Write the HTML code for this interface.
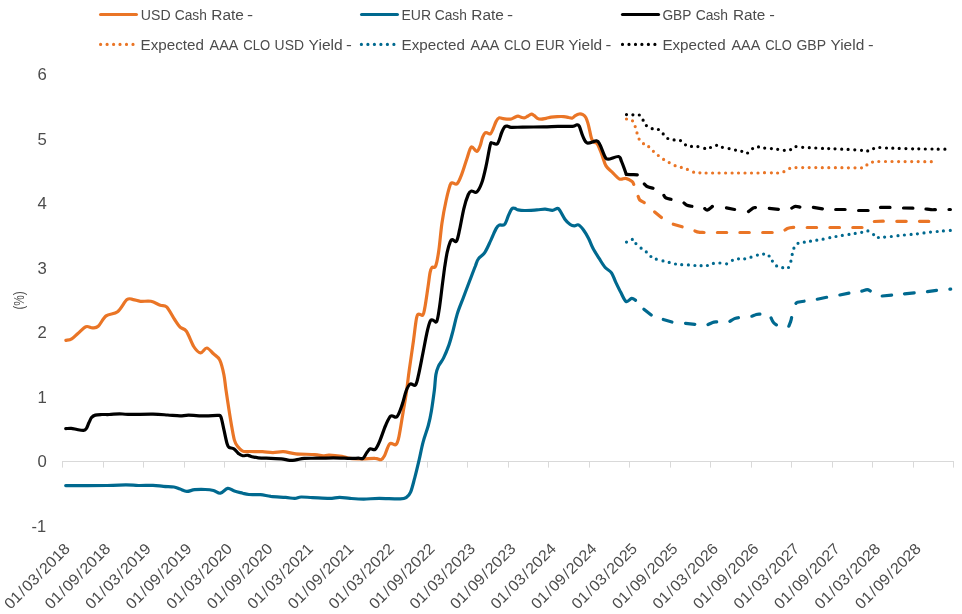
<!DOCTYPE html>
<html lang="en"><head><meta charset="utf-8"><title>Cash rates and expected AAA CLO yields</title>
<style>html,body{margin:0;padding:0;background:#fff}body{width:962px;height:614px;overflow:hidden}svg{display:block;will-change:transform}text{font-family:"Liberation Sans",sans-serif;fill:#4C4C4C}</style></head><body>
<svg width="962" height="614" viewBox="0 0 962 614">
<rect width="962" height="614" fill="#fff"/>
<g stroke="#D9D9D9" stroke-width="1" fill="none">
<path d="M62 461.5H954"/>
<path d="M62.5 461v6.6M103.5 461v6.6M143.5 461v6.6M184.5 461v6.6M224.5 461v6.6M265.5 461v6.6M305.5 461v6.6M346.5 461v6.6M386.5 461v6.6M427.5 461v6.6M467.5 461v6.6M508.5 461v6.6M548.5 461v6.6M589.5 461v6.6M629.5 461v6.6M670.5 461v6.6M710.5 461v6.6M751.5 461v6.6M791.5 461v6.6M832.5 461v6.6M872.5 461v6.6M913.5 461v6.6M953.5 461v6.6"/>
</g>
<g font-size="15.8" text-anchor="end">
<text x="46.9" y="79.85" textLength="9.31" lengthAdjust="spacingAndGlyphs">6</text>
<text x="46.9" y="144.95" textLength="9.31" lengthAdjust="spacingAndGlyphs">5</text>
<text x="46.9" y="209.25" textLength="9.31" lengthAdjust="spacingAndGlyphs">4</text>
<text x="46.9" y="273.80" textLength="9.31" lengthAdjust="spacingAndGlyphs">3</text>
<text x="46.9" y="337.90" textLength="9.31" lengthAdjust="spacingAndGlyphs">2</text>
<text x="46.9" y="402.90" textLength="9.31" lengthAdjust="spacingAndGlyphs">1</text>
<text x="46.9" y="466.85" textLength="9.31" lengthAdjust="spacingAndGlyphs">0</text>
<text x="46.2" y="532.00" textLength="14.60" lengthAdjust="spacingAndGlyphs">-1</text>
</g>
<text font-size="14.3" text-anchor="middle" textLength="18.4" lengthAdjust="spacingAndGlyphs" transform="translate(23.5 300.4) rotate(-90)">(%)</text>
<g font-size="15.4">
<text transform="translate(70.9 549.6) rotate(-45)"><tspan x="-85.50" textLength="17.96" lengthAdjust="spacingAndGlyphs">01</tspan><tspan x="-66.27">/</tspan><tspan x="-60.71" textLength="17.96" lengthAdjust="spacingAndGlyphs">03</tspan><tspan x="-41.47">/</tspan><tspan x="-35.91" textLength="35.91" lengthAdjust="spacingAndGlyphs">2018</tspan></text>
<text transform="translate(111.4 549.6) rotate(-45)"><tspan x="-85.50" textLength="17.96" lengthAdjust="spacingAndGlyphs">01</tspan><tspan x="-66.27">/</tspan><tspan x="-60.71" textLength="17.96" lengthAdjust="spacingAndGlyphs">09</tspan><tspan x="-41.47">/</tspan><tspan x="-35.91" textLength="35.91" lengthAdjust="spacingAndGlyphs">2018</tspan></text>
<text transform="translate(151.9 549.6) rotate(-45)"><tspan x="-85.50" textLength="17.96" lengthAdjust="spacingAndGlyphs">01</tspan><tspan x="-66.27">/</tspan><tspan x="-60.71" textLength="17.96" lengthAdjust="spacingAndGlyphs">03</tspan><tspan x="-41.47">/</tspan><tspan x="-35.91" textLength="35.91" lengthAdjust="spacingAndGlyphs">2019</tspan></text>
<text transform="translate(192.5 549.6) rotate(-45)"><tspan x="-85.50" textLength="17.96" lengthAdjust="spacingAndGlyphs">01</tspan><tspan x="-66.27">/</tspan><tspan x="-60.71" textLength="17.96" lengthAdjust="spacingAndGlyphs">09</tspan><tspan x="-41.47">/</tspan><tspan x="-35.91" textLength="35.91" lengthAdjust="spacingAndGlyphs">2019</tspan></text>
<text transform="translate(233.0 549.6) rotate(-45)"><tspan x="-85.50" textLength="17.96" lengthAdjust="spacingAndGlyphs">01</tspan><tspan x="-66.27">/</tspan><tspan x="-60.71" textLength="17.96" lengthAdjust="spacingAndGlyphs">03</tspan><tspan x="-41.47">/</tspan><tspan x="-35.91" textLength="35.91" lengthAdjust="spacingAndGlyphs">2020</tspan></text>
<text transform="translate(273.5 549.6) rotate(-45)"><tspan x="-85.50" textLength="17.96" lengthAdjust="spacingAndGlyphs">01</tspan><tspan x="-66.27">/</tspan><tspan x="-60.71" textLength="17.96" lengthAdjust="spacingAndGlyphs">09</tspan><tspan x="-41.47">/</tspan><tspan x="-35.91" textLength="35.91" lengthAdjust="spacingAndGlyphs">2020</tspan></text>
<text transform="translate(314.0 549.6) rotate(-45)"><tspan x="-85.50" textLength="17.96" lengthAdjust="spacingAndGlyphs">01</tspan><tspan x="-66.27">/</tspan><tspan x="-60.71" textLength="17.96" lengthAdjust="spacingAndGlyphs">03</tspan><tspan x="-41.47">/</tspan><tspan x="-35.91" textLength="35.91" lengthAdjust="spacingAndGlyphs">2021</tspan></text>
<text transform="translate(354.5 549.6) rotate(-45)"><tspan x="-85.50" textLength="17.96" lengthAdjust="spacingAndGlyphs">01</tspan><tspan x="-66.27">/</tspan><tspan x="-60.71" textLength="17.96" lengthAdjust="spacingAndGlyphs">09</tspan><tspan x="-41.47">/</tspan><tspan x="-35.91" textLength="35.91" lengthAdjust="spacingAndGlyphs">2021</tspan></text>
<text transform="translate(395.1 549.6) rotate(-45)"><tspan x="-85.50" textLength="17.96" lengthAdjust="spacingAndGlyphs">01</tspan><tspan x="-66.27">/</tspan><tspan x="-60.71" textLength="17.96" lengthAdjust="spacingAndGlyphs">03</tspan><tspan x="-41.47">/</tspan><tspan x="-35.91" textLength="35.91" lengthAdjust="spacingAndGlyphs">2022</tspan></text>
<text transform="translate(435.6 549.6) rotate(-45)"><tspan x="-85.50" textLength="17.96" lengthAdjust="spacingAndGlyphs">01</tspan><tspan x="-66.27">/</tspan><tspan x="-60.71" textLength="17.96" lengthAdjust="spacingAndGlyphs">09</tspan><tspan x="-41.47">/</tspan><tspan x="-35.91" textLength="35.91" lengthAdjust="spacingAndGlyphs">2022</tspan></text>
<text transform="translate(476.1 549.6) rotate(-45)"><tspan x="-85.50" textLength="17.96" lengthAdjust="spacingAndGlyphs">01</tspan><tspan x="-66.27">/</tspan><tspan x="-60.71" textLength="17.96" lengthAdjust="spacingAndGlyphs">03</tspan><tspan x="-41.47">/</tspan><tspan x="-35.91" textLength="35.91" lengthAdjust="spacingAndGlyphs">2023</tspan></text>
<text transform="translate(516.6 549.6) rotate(-45)"><tspan x="-85.50" textLength="17.96" lengthAdjust="spacingAndGlyphs">01</tspan><tspan x="-66.27">/</tspan><tspan x="-60.71" textLength="17.96" lengthAdjust="spacingAndGlyphs">09</tspan><tspan x="-41.47">/</tspan><tspan x="-35.91" textLength="35.91" lengthAdjust="spacingAndGlyphs">2023</tspan></text>
<text transform="translate(557.1 549.6) rotate(-45)"><tspan x="-85.50" textLength="17.96" lengthAdjust="spacingAndGlyphs">01</tspan><tspan x="-66.27">/</tspan><tspan x="-60.71" textLength="17.96" lengthAdjust="spacingAndGlyphs">03</tspan><tspan x="-41.47">/</tspan><tspan x="-35.91" textLength="35.91" lengthAdjust="spacingAndGlyphs">2024</tspan></text>
<text transform="translate(597.7 549.6) rotate(-45)"><tspan x="-85.50" textLength="17.96" lengthAdjust="spacingAndGlyphs">01</tspan><tspan x="-66.27">/</tspan><tspan x="-60.71" textLength="17.96" lengthAdjust="spacingAndGlyphs">09</tspan><tspan x="-41.47">/</tspan><tspan x="-35.91" textLength="35.91" lengthAdjust="spacingAndGlyphs">2024</tspan></text>
<text transform="translate(638.2 549.6) rotate(-45)"><tspan x="-85.50" textLength="17.96" lengthAdjust="spacingAndGlyphs">01</tspan><tspan x="-66.27">/</tspan><tspan x="-60.71" textLength="17.96" lengthAdjust="spacingAndGlyphs">03</tspan><tspan x="-41.47">/</tspan><tspan x="-35.91" textLength="35.91" lengthAdjust="spacingAndGlyphs">2025</tspan></text>
<text transform="translate(678.7 549.6) rotate(-45)"><tspan x="-85.50" textLength="17.96" lengthAdjust="spacingAndGlyphs">01</tspan><tspan x="-66.27">/</tspan><tspan x="-60.71" textLength="17.96" lengthAdjust="spacingAndGlyphs">09</tspan><tspan x="-41.47">/</tspan><tspan x="-35.91" textLength="35.91" lengthAdjust="spacingAndGlyphs">2025</tspan></text>
<text transform="translate(719.2 549.6) rotate(-45)"><tspan x="-85.50" textLength="17.96" lengthAdjust="spacingAndGlyphs">01</tspan><tspan x="-66.27">/</tspan><tspan x="-60.71" textLength="17.96" lengthAdjust="spacingAndGlyphs">03</tspan><tspan x="-41.47">/</tspan><tspan x="-35.91" textLength="35.91" lengthAdjust="spacingAndGlyphs">2026</tspan></text>
<text transform="translate(759.7 549.6) rotate(-45)"><tspan x="-85.50" textLength="17.96" lengthAdjust="spacingAndGlyphs">01</tspan><tspan x="-66.27">/</tspan><tspan x="-60.71" textLength="17.96" lengthAdjust="spacingAndGlyphs">09</tspan><tspan x="-41.47">/</tspan><tspan x="-35.91" textLength="35.91" lengthAdjust="spacingAndGlyphs">2026</tspan></text>
<text transform="translate(800.3 549.6) rotate(-45)"><tspan x="-85.50" textLength="17.96" lengthAdjust="spacingAndGlyphs">01</tspan><tspan x="-66.27">/</tspan><tspan x="-60.71" textLength="17.96" lengthAdjust="spacingAndGlyphs">03</tspan><tspan x="-41.47">/</tspan><tspan x="-35.91" textLength="35.91" lengthAdjust="spacingAndGlyphs">2027</tspan></text>
<text transform="translate(840.8 549.6) rotate(-45)"><tspan x="-85.50" textLength="17.96" lengthAdjust="spacingAndGlyphs">01</tspan><tspan x="-66.27">/</tspan><tspan x="-60.71" textLength="17.96" lengthAdjust="spacingAndGlyphs">09</tspan><tspan x="-41.47">/</tspan><tspan x="-35.91" textLength="35.91" lengthAdjust="spacingAndGlyphs">2027</tspan></text>
<text transform="translate(881.3 549.6) rotate(-45)"><tspan x="-85.50" textLength="17.96" lengthAdjust="spacingAndGlyphs">01</tspan><tspan x="-66.27">/</tspan><tspan x="-60.71" textLength="17.96" lengthAdjust="spacingAndGlyphs">03</tspan><tspan x="-41.47">/</tspan><tspan x="-35.91" textLength="35.91" lengthAdjust="spacingAndGlyphs">2028</tspan></text>
<text transform="translate(921.8 549.6) rotate(-45)"><tspan x="-85.50" textLength="17.96" lengthAdjust="spacingAndGlyphs">01</tspan><tspan x="-66.27">/</tspan><tspan x="-60.71" textLength="17.96" lengthAdjust="spacingAndGlyphs">09</tspan><tspan x="-41.47">/</tspan><tspan x="-35.91" textLength="35.91" lengthAdjust="spacingAndGlyphs">2028</tspan></text>
</g>
<path d="M65.9 340.4C66.9 340.1 69.7 340.0 71.7 338.8C73.7 337.6 75.5 335.4 77.9 333.4C80.3 331.4 83.5 327.6 85.9 326.7C88.3 325.8 90.5 327.9 92.5 327.8C94.5 327.7 95.9 328.3 98.2 326.3C100.5 324.3 102.9 318.3 106.1 315.9C109.3 313.5 114.1 314.4 117.6 311.7C121.1 309.0 124.4 301.6 127.0 299.6C129.6 297.6 130.9 299.3 133.2 299.6C135.4 299.9 137.6 301.0 140.5 301.3C143.4 301.6 147.6 300.7 150.9 301.3C154.2 301.9 157.7 304.3 160.3 305.2C162.9 306.1 164.3 304.7 166.6 306.9C168.9 309.1 171.7 315.0 173.9 318.4C176.2 321.8 178.0 325.0 180.1 327.1C182.2 329.2 184.1 328.1 186.4 331.3C188.7 334.5 191.4 342.9 193.7 346.5C196.0 350.1 198.2 352.6 200.4 352.8C202.6 353.1 204.6 347.8 206.8 348.0C209.0 348.2 211.3 351.8 213.5 353.8C215.7 355.8 218.1 356.6 219.8 360.1C221.5 363.6 222.9 369.7 223.9 374.7C224.9 379.7 225.1 384.0 226.0 390.0C226.9 396.0 228.1 404.2 229.1 410.5C230.1 416.8 231.0 422.6 231.9 427.5C232.8 432.4 233.5 437.0 234.4 440.1C235.3 443.2 236.1 444.5 237.5 446.3C238.9 448.1 240.6 450.2 242.7 451.1C244.8 452.0 246.7 451.4 250.0 451.5C253.3 451.6 258.7 451.5 262.5 451.7C266.3 451.9 269.4 452.6 272.9 452.6C276.4 452.6 279.6 451.5 283.4 451.7C287.2 451.9 290.7 453.3 295.9 453.8C301.1 454.3 310.2 454.2 314.7 454.6C319.2 455.0 320.6 455.8 323.0 455.9C325.4 456.0 326.1 455.0 329.2 455.1C332.3 455.2 338.3 455.8 341.8 456.3C345.3 456.9 346.6 458.0 350.1 458.4C353.6 458.8 358.4 458.8 362.6 458.8C366.8 458.8 372.0 458.2 375.1 458.4C378.2 458.5 379.4 460.1 381.0 459.7C382.6 459.2 383.1 458.3 384.5 455.7C385.9 453.1 387.8 445.6 389.7 443.8C391.6 442.0 394.4 445.9 396.0 444.6C397.6 443.3 397.9 441.5 399.1 435.9C400.3 430.3 402.1 418.0 403.3 410.9C404.5 403.8 405.3 399.8 406.3 393.0C407.3 386.2 408.0 379.0 409.2 370.4C410.4 361.8 412.2 349.9 413.4 341.2C414.6 332.5 415.6 322.8 416.5 318.3C417.4 313.8 417.6 314.6 418.6 314.1C419.7 313.6 421.8 316.2 422.8 315.2C423.8 314.2 423.9 312.6 424.8 307.9C425.7 303.2 427.1 292.9 428.0 287.0C428.9 281.1 429.4 275.7 430.1 272.4C430.8 269.1 431.2 268.2 432.1 267.2C433.0 266.2 434.5 269.0 435.6 266.2C436.7 263.4 437.8 257.6 438.8 250.5C439.9 243.4 440.7 231.7 441.9 223.4C443.1 215.1 444.7 206.9 446.1 200.5C447.5 194.1 449.2 187.8 450.2 184.8C451.2 181.9 451.1 183.0 452.3 182.8C453.5 182.6 455.5 185.2 457.1 183.8C458.7 182.4 460.1 178.6 461.7 174.4C463.3 170.2 465.3 163.4 466.9 158.8C468.5 154.2 469.7 148.2 471.3 147.0C472.9 145.8 475.2 151.5 476.7 151.4C478.1 151.3 479.0 148.5 480.0 146.2C481.0 143.9 481.6 139.6 482.5 137.4C483.4 135.2 484.3 133.5 485.2 132.8C486.1 132.1 486.8 132.9 487.7 133.1C488.6 133.2 489.7 134.4 490.6 133.7C491.5 133.0 492.2 131.0 493.1 128.9C494.0 126.8 495.2 123.1 496.2 121.2C497.2 119.3 498.1 118.2 499.3 117.8C500.5 117.4 501.9 118.5 503.1 118.7C504.4 118.9 505.5 119.0 506.8 119.1C508.1 119.1 509.9 119.3 511.2 119.0C512.5 118.7 513.8 117.7 514.9 117.2C516.0 116.7 516.9 116.2 518.0 116.2C519.1 116.2 520.6 117.2 521.8 117.5C522.9 117.8 523.9 118.0 524.9 117.8C525.9 117.5 526.9 116.6 528.0 116.0C529.1 115.4 530.4 114.2 531.4 114.1C532.4 114.0 533.3 114.9 534.3 115.6C535.3 116.3 536.3 117.7 537.4 118.3C538.5 118.9 539.6 119.1 541.1 119.1C542.6 119.1 544.4 118.6 546.1 118.3C547.8 118.0 549.2 117.5 551.1 117.2C553.0 116.9 555.2 116.7 557.3 116.6C559.4 116.5 561.7 116.4 563.6 116.6C565.5 116.8 567.2 117.2 568.6 117.5C570.0 117.8 571.0 118.4 572.1 118.1C573.2 117.8 574.2 116.3 575.4 115.6C576.6 114.9 578.0 114.2 579.2 114.0C580.5 113.8 581.8 114.1 582.9 114.7C584.0 115.3 585.0 116.1 585.8 117.5C586.6 118.9 587.2 120.8 587.9 123.1C588.6 125.4 589.2 128.6 589.8 131.2C590.4 133.8 590.9 136.8 591.6 138.7C592.3 140.6 593.2 141.5 594.1 142.4C595.0 143.3 596.0 141.9 597.3 143.9C598.6 145.9 600.3 150.7 601.8 154.4C603.2 158.1 604.3 162.9 606.0 165.9C607.7 168.9 610.0 170.0 612.2 172.2C614.5 174.4 617.2 178.0 619.5 179.0C621.8 180.0 623.7 178.0 625.8 178.4C627.9 178.8 630.8 180.5 632.1 181.5C633.4 182.5 633.4 183.8 633.7 184.3" fill="none" stroke="#EA7526" stroke-width="3.2" stroke-linecap="round" stroke-linejoin="round"/>
<path d="M65.7 485.6C72.6 485.6 97.1 485.6 107.1 485.5C117.1 485.4 120.7 484.9 125.9 484.9C131.1 484.9 133.9 485.4 138.4 485.5C142.9 485.6 148.8 485.2 153.0 485.3C157.2 485.4 159.9 486.1 163.4 486.4C166.9 486.7 171.1 486.6 173.9 487.0C176.7 487.4 177.9 488.4 180.1 489.1C182.2 489.8 184.4 491.3 186.8 491.4C189.2 491.5 191.6 490.0 194.7 489.7C197.8 489.4 202.1 489.4 205.2 489.5C208.3 489.6 211.0 489.9 213.5 490.5C216.0 491.1 218.0 493.6 220.4 493.2C222.8 492.8 225.4 488.8 227.7 488.4C230.0 488.0 231.9 490.3 234.4 491.1C236.9 491.9 240.3 492.6 242.7 493.2C245.1 493.8 246.0 494.2 248.9 494.5C251.8 494.8 256.7 494.4 260.4 494.7C264.1 495.0 266.7 495.9 270.9 496.4C275.1 496.8 281.5 497.1 285.5 497.4C289.5 497.7 292.2 498.5 294.8 498.4C297.4 498.3 298.1 497.1 301.1 497.0C304.1 496.9 307.9 497.4 312.6 497.6C317.3 497.8 324.7 498.4 329.2 498.4C333.7 498.4 336.2 497.4 339.7 497.4C343.2 497.4 346.1 498.1 350.1 498.4C354.1 498.7 358.8 499.1 363.7 499.1C368.6 499.1 373.2 498.4 379.3 498.4C385.4 498.4 395.7 499.1 400.2 498.9C404.7 498.7 404.7 498.5 406.4 497.4C408.1 496.3 409.2 495.5 410.6 492.2C412.0 488.9 413.4 482.8 414.8 477.6C416.2 472.4 417.5 466.8 418.9 460.9C420.3 455.0 421.5 448.0 423.1 442.1C424.7 436.2 426.9 430.7 428.3 425.5C429.7 420.3 430.4 416.8 431.4 410.9C432.4 405.0 433.6 396.1 434.4 390.0C435.1 383.9 435.2 378.6 435.9 374.6C436.6 370.7 437.1 369.1 438.4 366.3C439.7 363.5 441.9 361.4 443.6 357.9C445.3 354.4 447.2 349.9 448.8 345.4C450.4 340.9 451.6 336.0 453.0 330.8C454.4 325.6 455.5 319.7 457.2 314.1C458.9 308.6 461.3 303.1 463.4 297.5C465.5 291.9 467.7 286.1 469.7 280.8C471.7 275.6 473.9 269.6 475.4 266.0C476.8 262.4 476.8 261.1 478.4 258.9C479.9 256.7 482.6 255.7 484.7 252.6C486.8 249.5 489.0 244.1 490.9 240.1C492.8 236.1 494.7 231.1 496.1 228.6C497.5 226.1 497.8 225.8 499.2 225.1C500.6 224.4 502.9 226.2 504.5 224.5C506.1 222.8 507.4 217.7 508.6 215.1C509.8 212.5 510.8 209.9 511.8 208.8C512.9 207.7 513.9 208.2 514.9 208.4C515.9 208.6 516.4 209.6 518.0 209.9C519.6 210.2 521.2 210.5 524.3 210.5C527.4 210.5 533.3 210.1 536.8 209.9C540.3 209.7 542.5 209.1 545.1 209.2C547.7 209.3 550.3 210.4 552.4 210.3C554.5 210.2 556.3 208.3 557.6 208.4C558.9 208.5 558.9 209.1 560.1 210.9C561.3 212.7 563.2 216.9 564.9 219.2C566.6 221.5 568.6 223.4 570.2 224.5C571.8 225.6 572.9 225.8 574.3 225.9C575.7 226.0 577.0 224.2 578.5 224.9C580.0 225.6 581.8 227.7 583.5 230.0C585.2 232.3 587.1 235.6 588.6 238.5C590.1 241.4 591.0 244.4 592.7 247.7C594.4 251.0 596.9 254.9 599.0 258.2C601.1 261.5 603.1 265.1 605.2 267.5C607.3 269.9 609.8 270.4 611.5 272.8C613.2 275.2 614.1 278.8 615.7 282.1C617.3 285.4 619.2 289.4 620.9 292.6C622.6 295.8 624.3 300.5 626.1 301.5C627.9 302.5 630.1 298.6 631.7 298.4C633.3 298.2 634.9 300.0 635.5 300.3" fill="none" stroke="#00698F" stroke-width="3.2" stroke-linecap="round" stroke-linejoin="round"/>
<path d="M65.7 428.6C66.6 428.6 69.2 428.2 71.1 428.3C73.0 428.4 74.9 429.1 77.0 429.5C79.1 429.9 82.0 430.6 83.6 430.4C85.2 430.2 85.6 429.6 86.5 428.3C87.4 427.0 88.1 424.3 89.0 422.5C89.9 420.7 90.7 418.5 91.7 417.3C92.8 416.1 93.6 415.6 95.3 415.1C97.0 414.6 99.6 414.6 101.9 414.5C104.2 414.4 106.2 414.6 109.2 414.5C112.2 414.4 116.5 413.8 119.6 413.8C122.7 413.8 122.4 414.3 128.0 414.4C133.6 414.5 146.4 414.1 153.0 414.2C159.6 414.3 163.1 414.7 167.6 415.0C172.1 415.3 176.6 415.9 180.1 415.9C183.6 415.9 184.3 415.2 188.5 415.2C192.7 415.2 200.3 415.9 205.2 415.9C210.1 415.9 215.1 415.3 217.7 415.4C220.3 415.5 219.8 414.3 220.8 416.7C221.8 419.1 222.9 425.1 223.9 429.6C224.9 434.1 226.2 440.8 227.1 443.8C228.0 446.8 228.0 446.6 229.1 447.4C230.2 448.2 232.3 447.8 233.9 448.8C235.5 449.8 237.0 452.5 238.5 453.6C240.0 454.8 241.1 455.4 242.7 455.7C244.3 456.0 246.3 455.1 247.9 455.3C249.5 455.5 250.3 456.4 252.0 456.8C253.7 457.2 255.2 457.5 258.3 457.8C261.4 458.1 267.1 458.2 270.9 458.4C274.7 458.6 278.2 458.5 281.3 458.8C284.4 459.1 287.2 460.1 289.6 460.3C292.0 460.5 293.5 460.2 295.9 459.9C298.3 459.6 300.7 458.7 304.2 458.4C307.7 458.1 311.8 458.3 316.7 458.2C321.6 458.1 327.8 457.8 333.4 457.8C339.0 457.8 345.9 458.3 350.1 458.4C354.3 458.5 356.2 458.2 358.4 458.2C360.5 458.2 361.6 459.3 363.0 458.4C364.4 457.5 365.6 454.2 366.8 452.6C368.0 451.0 368.9 449.3 370.3 448.8C371.7 448.3 373.6 450.5 375.1 449.4C376.6 448.3 377.6 446.1 379.3 442.1C381.1 438.1 383.7 429.8 385.6 425.5C387.5 421.2 388.9 417.6 390.8 416.1C392.7 414.6 395.1 418.6 397.0 416.7C398.9 414.8 400.7 408.9 402.2 404.6C403.7 400.3 404.8 394.4 406.1 391.0C407.4 387.6 408.6 385.0 410.2 384.0C411.8 383.0 414.1 386.6 415.5 385.0C416.9 383.4 417.4 379.8 418.6 374.6C419.8 369.4 421.4 360.8 422.8 353.8C424.2 346.9 425.7 338.3 426.9 332.9C428.1 327.5 429.2 323.5 430.1 321.4C431.1 319.2 431.5 320.0 432.6 320.0C433.7 320.0 435.6 323.4 436.7 321.4C437.8 319.4 438.4 314.3 439.4 307.9C440.4 301.5 441.7 289.6 442.6 282.9C443.5 276.2 443.9 272.7 444.6 267.6C445.4 262.6 446.2 256.9 447.1 252.6C448.0 248.3 449.3 244.0 450.2 241.8C451.1 239.7 451.2 239.8 452.3 239.7C453.4 239.6 455.3 242.8 456.5 241.1C457.7 239.4 458.4 235.1 459.6 229.7C460.8 224.3 462.4 214.7 463.8 208.8C465.2 202.9 467.0 197.5 468.3 194.5C469.6 191.5 470.1 191.4 471.5 191.0C472.9 190.6 475.0 193.3 476.7 192.0C478.4 190.7 480.1 187.3 481.7 183.0C483.3 178.7 484.7 172.2 486.1 165.9C487.5 159.6 489.2 148.9 490.2 145.1C491.2 141.3 491.1 143.2 492.3 143.0C493.5 142.8 495.9 145.3 497.5 143.6C499.1 141.8 500.5 135.3 501.7 132.5C502.9 129.7 503.8 127.7 504.8 126.7C505.9 125.7 506.9 126.2 508.0 126.3C509.1 126.4 508.7 127.2 511.1 127.3C513.5 127.4 517.2 127.2 522.6 127.1C528.0 127.0 537.5 127.0 543.4 126.9C549.3 126.8 553.1 126.4 558.0 126.3C562.9 126.2 569.5 126.5 572.6 126.3C575.7 126.0 575.7 124.8 576.8 124.8C577.9 124.8 578.3 124.3 579.3 126.3C580.3 128.3 581.7 133.9 583.0 136.7C584.3 139.5 584.9 142.3 587.2 143.0C589.5 143.7 594.5 140.6 596.6 140.9C598.8 141.2 598.7 142.5 600.1 145.1C601.5 147.7 603.6 154.2 604.9 156.5C606.2 158.8 605.8 159.2 608.1 159.2C610.4 159.2 616.2 156.1 618.5 156.5C620.8 156.9 620.3 158.8 621.6 161.7C622.9 164.6 625.5 172.1 626.3 174.2" fill="none" stroke="#000000" stroke-width="3.2" stroke-linecap="round" stroke-linejoin="round"/>
<path d="M638.2 196.4C638.5 197.0 638.8 199.0 639.8 200.0C640.8 201.0 643.5 202.2 644.2 202.6M654.7 211.9L661.4 217.5M673.3 224.2L682.1 226.8M694.9 230.9C695.5 231.1 696.9 231.8 698.4 232.1C699.9 232.4 703.1 232.4 704.0 232.5M717.4 232.5L726.7 232.5M739.9 232.5L749.3 232.5M762.7 232.5L772.2 232.5M785.0 230.0C785.5 229.7 786.6 228.6 788.1 228.2C789.6 227.8 792.8 227.5 793.7 227.4M807.2 227.5L816.6 227.5M829.9 227.5L839.5 227.5M852.8 227.5L862.0 227.5M874.3 221.5L883.3 221.2M896.8 221.3L906.2 221.3M919.5 221.3L928.8 221.4" fill="none" stroke="#EA7526" stroke-width="3.2" stroke-linecap="round" stroke-linejoin="round"/>
<path d="M643.9 309.2L651.2 315.1M663.3 319.5L671.9 322.0M685.6 323.3L694.8 324.4M708.0 324.6C708.8 324.2 711.2 322.9 712.6 322.4C714.0 321.9 716.0 322.0 716.7 321.9M729.9 321.4C730.7 321.0 733.1 319.2 734.5 318.6C735.9 318.0 737.8 317.9 738.4 317.7M751.9 316.2C752.6 316.0 755.1 314.9 756.4 314.5C757.7 314.1 759.3 314.2 759.9 314.1M771.1 318.0C771.5 318.8 772.6 321.5 773.5 322.6C774.4 323.7 776.0 324.5 776.4 324.9M788.8 326.2C789.1 325.4 790.1 323.0 790.6 321.6C791.1 320.2 791.5 318.2 791.6 317.5M796.0 303.4C796.2 303.2 796.1 302.6 797.5 302.2C798.9 301.8 803.0 301.4 804.1 301.2M817.3 299.2L826.6 297.3M839.9 295.0L848.9 293.1M861.8 291.1C862.7 290.9 865.9 289.7 867.3 289.7C868.7 289.7 869.8 290.8 870.3 291.0M882.2 296.0L891.6 295.2M904.5 293.9L914.2 292.9M927.5 291.7L936.5 290.4M949.9 289.2L950.7 289.1" fill="none" stroke="#00698F" stroke-width="3.2" stroke-linecap="round" stroke-linejoin="round"/>
<path d="M626.3 174.3C627.1 174.4 629.2 174.5 631.0 174.6C632.8 174.7 636.2 174.8 637.3 174.9M644.3 183.9C644.9 184.4 646.2 186.1 647.7 186.8C649.2 187.5 652.1 188.0 653.0 188.3M663.9 195.4C664.2 195.9 664.9 197.4 666.1 198.0C667.3 198.6 670.2 199.1 671.0 199.3M684.0 203.0C684.5 203.4 685.7 204.8 687.0 205.3C688.3 205.8 691.1 206.1 691.9 206.3M704.7 208.6C705.2 208.8 706.2 210.4 707.5 210.0C708.8 209.6 711.6 207.0 712.4 206.4M726.5 207.9L734.6 209.5M748.5 211.6C749.3 211.0 752.2 208.6 753.4 207.9C754.6 207.2 755.1 207.7 755.4 207.6M769.3 208.4L778.4 209.4M791.8 208.1C792.4 207.8 794.1 206.6 795.4 206.4C796.7 206.2 799.2 207.0 799.9 207.1M813.4 207.3L822.4 208.8M835.7 209.5L845.1 209.5M858.6 210.5L868.1 210.5M880.5 207.4L890.0 207.4M903.5 208.0L912.9 208.2M926.0 209.0C926.8 209.1 929.3 209.6 930.9 209.7C932.5 209.8 934.6 209.7 935.4 209.7M949.0 209.5L950.4 209.5" fill="none" stroke="#000000" stroke-width="3.2" stroke-linecap="round" stroke-linejoin="round"/>
<path d="M626.5 119.0h0M632.5 120.8h0M635.2 126.6h0M637.0 132.9h0M639.1 139.1h0M643.5 143.7h0M648.7 146.7h0M653.4 151.3h0M658.3 155.5h0M663.6 159.4h0M669.2 162.6h0M675.1 165.7h0M681.3 167.4h0M687.4 169.4h0M693.6 172.2h0M699.9 172.8h0M706.1 173.0h0M712.6 173.0h0M719.1 173.0h0M725.6 173.0h0M732.1 173.0h0M738.5 173.0h0M745.0 173.0h0M751.5 173.0h0M758.0 173.0h0M764.5 172.7h0M771.4 172.8h0M777.6 173.0h0M783.9 171.7h0M789.7 168.4h0M796.0 167.6h0M802.7 167.6h0M809.2 167.6h0M815.8 167.6h0M822.3 167.7h0M828.8 167.7h0M835.4 167.7h0M841.9 167.7h0M848.4 167.8h0M855.0 167.8h0M861.5 167.8h0M866.9 164.9h0M872.5 162.1h0M878.8 161.5h0M885.5 161.5h0M892.0 161.5h0M898.6 161.6h0M905.1 161.6h0M911.7 161.6h0M918.2 161.6h0M924.8 161.7h0M931.3 161.7h0" fill="none" stroke="#EA7526" stroke-width="3.2" stroke-linecap="round"/>
<path d="M626.5 242.1h0M632.3 239.4h0M635.9 243.6h0M641.1 248.2h0M646.3 251.9h0M650.9 256.5h0M656.3 259.2h0M663.0 260.9h0M669.2 262.4h0M675.5 264.0h0M681.7 264.7h0M688.4 264.9h0M694.9 265.5h0M701.1 265.7h0M707.4 265.5h0M713.4 263.4h0M719.9 263.0h0M726.6 263.8h0M732.4 260.3h0M738.5 258.8h0M744.7 258.8h0M751.0 257.2h0M757.4 255.1h0M763.6 254.1h0M769.1 256.0h0M772.4 261.1h0M776.6 265.9h0M782.7 267.7h0M788.5 267.5h0M790.9 261.2h0M792.2 254.4h0M793.9 248.2h0M798.0 243.3h0M804.3 242.2h0M810.5 241.2h0M816.8 240.2h0M823.1 239.2h0M829.8 237.7h0M836.0 236.5h0M842.3 235.4h0M849.0 234.4h0M855.2 233.4h0M861.7 232.3h0M867.9 230.9h0M873.6 234.6h0M878.4 237.5h0M884.6 237.1h0M891.3 236.5h0M898.0 235.7h0M904.4 235.0h0M911.1 234.4h0M917.4 233.8h0M924.0 232.9h0M930.5 232.1h0M937.2 231.5h0M943.4 230.9h0M950.3 230.4h0" fill="none" stroke="#00698F" stroke-width="3.2" stroke-linecap="round"/>
<path d="M626.5 114.6h0M632.9 114.8h0M639.3 115.0h0M643.1 120.2h0M646.4 125.6h0M652.2 128.7h0M658.4 129.5h0M663.2 133.9h0M667.8 138.5h0M674.1 139.9h0M680.5 140.6h0M685.5 144.8h0M691.5 146.4h0M697.9 146.6h0M704.7 148.4h0M710.5 147.5h0M716.6 145.3h0M722.4 147.3h0M729.1 148.6h0M735.5 150.1h0M741.8 151.3h0M747.6 153.0h0M752.6 148.6h0M758.5 146.9h0M764.7 148.1h0M771.4 148.6h0M777.7 149.3h0M784.3 150.3h0M790.6 149.6h0M796.0 146.6h0M802.7 147.3h0M809.3 147.7h0M815.8 148.0h0M822.5 148.4h0M828.7 148.6h0M835.0 148.8h0M841.7 149.2h0M848.1 149.4h0M854.8 149.8h0M861.5 150.3h0M867.7 150.9h0M873.6 148.6h0M879.8 147.5h0M886.5 148.0h0M892.8 148.2h0M899.2 148.4h0M905.9 148.6h0M912.6 148.8h0M918.8 148.8h0M925.3 149.0h0M932.0 149.0h0M938.2 149.2h0M944.9 149.2h0" fill="none" stroke="#000000" stroke-width="3.2" stroke-linecap="round"/>
<path d="M100.6 14.5H136.4" stroke="#EA7526" stroke-width="3.2" stroke-linecap="round" fill="none"/>
<path d="M361.6 14.5H397.4" stroke="#00698F" stroke-width="3.2" stroke-linecap="round" fill="none"/>
<path d="M622.5 14.5H658.5" stroke="#000000" stroke-width="3.2" stroke-linecap="round" fill="none"/>
<path d="M100.6 44.4h0M107.1 44.4h0M113.6 44.4h0M120.0 44.4h0M126.5 44.4h0M133.0 44.4h0" fill="none" stroke="#EA7526" stroke-width="3.2" stroke-linecap="round"/>
<path d="M361.4 44.4h0M367.9 44.4h0M374.4 44.4h0M380.9 44.4h0M387.4 44.4h0M393.9 44.4h0" fill="none" stroke="#00698F" stroke-width="3.2" stroke-linecap="round"/>
<path d="M622.5 44.4h0M629.0 44.4h0M635.5 44.4h0M641.9 44.4h0M648.4 44.4h0M654.9 44.4h0" fill="none" stroke="#000000" stroke-width="3.2" stroke-linecap="round"/>
<g font-size="15.4">
<text y="20"><tspan x="140.75" textLength="29.85" lengthAdjust="spacingAndGlyphs">USD</tspan> <tspan x="174.75" textLength="32.10" lengthAdjust="spacingAndGlyphs">Cash</tspan> <tspan x="211.25" textLength="32.60" lengthAdjust="spacingAndGlyphs">Rate</tspan> <tspan x="247.00" textLength="6.10" lengthAdjust="spacingAndGlyphs">-</tspan></text>
<text y="20"><tspan x="401.50" textLength="29.60" lengthAdjust="spacingAndGlyphs">EUR</tspan> <tspan x="434.75" textLength="32.10" lengthAdjust="spacingAndGlyphs">Cash</tspan> <tspan x="471.25" textLength="32.60" lengthAdjust="spacingAndGlyphs">Rate</tspan> <tspan x="507.00" textLength="6.10" lengthAdjust="spacingAndGlyphs">-</tspan></text>
<text y="20"><tspan x="662.40" textLength="28.85" lengthAdjust="spacingAndGlyphs">GBP</tspan> <tspan x="695.65" textLength="32.35" lengthAdjust="spacingAndGlyphs">Cash</tspan> <tspan x="732.90" textLength="32.35" lengthAdjust="spacingAndGlyphs">Rate</tspan> <tspan x="769.15" textLength="5.60" lengthAdjust="spacingAndGlyphs">-</tspan></text>
<text y="50"><tspan x="140.60" textLength="63.35" lengthAdjust="spacingAndGlyphs">Expected</tspan> <tspan x="209.60" textLength="28.10" lengthAdjust="spacingAndGlyphs">AAA</tspan> <tspan x="243.35" textLength="26.85" lengthAdjust="spacingAndGlyphs">CLO</tspan> <tspan x="274.60" textLength="29.35" lengthAdjust="spacingAndGlyphs">USD</tspan> <tspan x="308.60" textLength="34.10" lengthAdjust="spacingAndGlyphs">Yield</tspan> <tspan x="346.10" textLength="5.85" lengthAdjust="spacingAndGlyphs">-</tspan></text>
<text y="50"><tspan x="401.60" textLength="63.35" lengthAdjust="spacingAndGlyphs">Expected</tspan> <tspan x="470.60" textLength="28.10" lengthAdjust="spacingAndGlyphs">AAA</tspan> <tspan x="504.10" textLength="26.60" lengthAdjust="spacingAndGlyphs">CLO</tspan> <tspan x="535.60" textLength="29.10" lengthAdjust="spacingAndGlyphs">EUR</tspan> <tspan x="568.35" textLength="33.85" lengthAdjust="spacingAndGlyphs">Yield</tspan> <tspan x="605.60" textLength="5.85" lengthAdjust="spacingAndGlyphs">-</tspan></text>
<text y="50"><tspan x="662.40" textLength="63.35" lengthAdjust="spacingAndGlyphs">Expected</tspan> <tspan x="731.40" textLength="28.10" lengthAdjust="spacingAndGlyphs">AAA</tspan> <tspan x="765.15" textLength="26.60" lengthAdjust="spacingAndGlyphs">CLO</tspan> <tspan x="796.40" textLength="29.35" lengthAdjust="spacingAndGlyphs">GBP</tspan> <tspan x="830.40" textLength="33.85" lengthAdjust="spacingAndGlyphs">Yield</tspan> <tspan x="867.90" textLength="5.60" lengthAdjust="spacingAndGlyphs">-</tspan></text>
</g>
</svg></body></html>
